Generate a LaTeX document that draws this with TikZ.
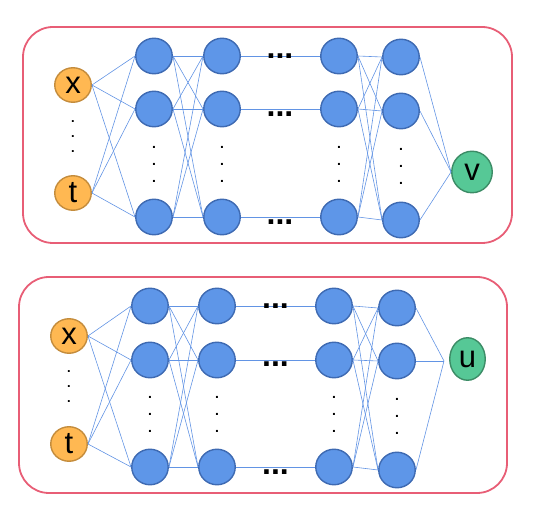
\documentclass[tikz,border=0pt]{standalone}
\usepackage{fontspec}
\setmainfont{Liberation Sans}
\usetikzlibrary{positioning,shapes.geometric}

\definecolor{nnblue}{RGB}{94,150,232}
\definecolor{nnblueline}{RGB}{62,106,178}
\definecolor{inorange}{RGB}{255,184,82}
\definecolor{inorangeline}{RGB}{196,140,60}
\definecolor{outgreen}{RGB}{86,200,150}
\definecolor{outgreenline}{RGB}{60,140,102}
\definecolor{panelred}{RGB}{232,94,118}
\definecolor{edgeblue}{RGB}{98,148,228}

\tikzset{
	hidden/.style={ellipse,fill=nnblue,draw=nnblueline,line width=1.4pt,inner sep=0pt,minimum width=36.5pt,minimum height=35.5pt},
	input/.style={ellipse,fill=inorange,draw=inorangeline,line width=1.4pt,inner sep=0pt,minimum width=36.5pt,minimum height=34.5pt,font=\fontsize{31}{31}\selectfont},
	output/.style={ellipse,fill=outgreen,draw=outgreenline,line width=1.4pt,inner sep=0pt,font=\fontsize{31}{31}\selectfont},
	link/.style={draw=edgeblue,line width=0.6pt},
	panel/.style={draw=panelred,line width=1.8pt,rounded corners=30pt},
	hdots/.style={inner sep=0pt,font=\bfseries\fontsize{32}{32}\selectfont},
	vdots/.style={inner sep=0pt,align=center,font=\bfseries\fontsize{14}{17}\selectfont}
}

\begin{document}
\begin{tikzpicture}[x=1pt,y=-1pt]
	\useasboundingbox (0,0) rectangle (536,518);

	% panel for v
	\draw[panel] (23,27) rectangle (512,243);

	\node[input] (vx) at (73,85) {x};
	\node[input] (vt) at (73,193) {t};

	\node[hidden] (va1) at (154,56) {};
	\node[hidden] (va2) at (154,109) {};
	\node[hidden] (va3) at (154,217) {};
	\node[hidden] (vb1) at (222,56) {};
	\node[hidden] (vb2) at (222,109) {};
	\node[hidden] (vb3) at (222,217) {};
	\node[hidden] (vc1) at (339,56) {};
	\node[hidden] (vc2) at (339,109) {};
	\node[hidden] (vc3) at (339,217) {};
	\node[hidden] (vd1) at (401,57) {};
	\node[hidden] (vd2) at (401,111) {};
	\node[hidden] (vd3) at (401,220) {};

	\node[output,minimum width=40.5pt,minimum height=41.5pt] (v) at (472,172) {v};

	\foreach \i in {vx,vt}
		\foreach \j in {va1,va2,va3}
			\draw[link] (\i.east) -- (\j.west);
	\foreach \i in {va1,va2,va3}
		\foreach \j in {vb1,vb2,vb3}
			\draw[link] (\i.east) -- (\j.west);
	\foreach \i in {1,2,3}
		\draw[link] (vb\i.east) -- (vc\i.west);
	\foreach \i in {vc1,vc2,vc3}
		\foreach \j in {vd1,vd2,vd3}
			\draw[link] (\i.east) -- (\j.west);
	\foreach \i in {vd1,vd2,vd3}
		\draw[link] (\i.east) -- (v.west);

	\node[hdots] (vh1) at (280,56) {...};
	\node[hdots] (vh2) at (280,114) {...};
	\node[hdots] (vh3) at (280,222) {...};

	\node[vdots,font=\bfseries\fontsize{13}{15}\selectfont] (vvx) at (73,137) {.\\.\\.};
	\node[vdots] (vva) at (154,164) {.\\.\\.};
	\node[vdots] (vvb) at (222,164) {.\\.\\.};
	\node[vdots] (vvc) at (339,164) {.\\.\\.};
	\node[vdots] (vvd) at (401,166) {.\\.\\.};

	% panel for u
	\draw[panel] (19,277) rectangle (507,493);

	\node[input] (ux) at (69,336) {x};
	\node[input] (ut) at (69,444) {t};

	\node[hidden] (ua1) at (150,306) {};
	\node[hidden] (ua2) at (150,360) {};
	\node[hidden] (ua3) at (150,467) {};
	\node[hidden] (ub1) at (217,306) {};
	\node[hidden] (ub2) at (217,360) {};
	\node[hidden] (ub3) at (217,467) {};
	\node[hidden] (uc1) at (334,306) {};
	\node[hidden] (uc2) at (334,360) {};
	\node[hidden] (uc3) at (334,467) {};
	\node[hidden] (ud1) at (397,308) {};
	\node[hidden] (ud2) at (397,361) {};
	\node[hidden] (ud3) at (397,470) {};

	\node[output,minimum width=35.5pt,minimum height=42.5pt] (u) at (467.5,359) {u};
	\coordinate (uin) at (444,361);

	\foreach \i in {ux,ut}
		\foreach \j in {ua1,ua2,ua3}
			\draw[link] (\i.east) -- (\j.west);
	\foreach \i in {ua1,ua2,ua3}
		\foreach \j in {ub1,ub2,ub3}
			\draw[link] (\i.east) -- (\j.west);
	\foreach \i in {1,2,3}
		\draw[link] (ub\i.east) -- (uc\i.west);
	\foreach \i in {uc1,uc2,uc3}
		\foreach \j in {ud1,ud2,ud3}
			\draw[link] (\i.east) -- (\j.west);
	\foreach \i in {ud1,ud2,ud3}
		\draw[link] (\i.east) -- (uin);

	\node[hdots] (uh1) at (275.5,306) {...};
	\node[hdots] (uh2) at (275.5,364) {...};
	\node[hdots] (uh3) at (275.5,472) {...};

	\node[vdots,font=\bfseries\fontsize{13}{15}\selectfont] (uvx) at (69,387) {.\\.\\.};
	\node[vdots] (uva) at (150,414) {.\\.\\.};
	\node[vdots] (uvb) at (217,414) {.\\.\\.};
	\node[vdots] (uvc) at (334,414) {.\\.\\.};
	\node[vdots] (uvd) at (397,416) {.\\.\\.};

\end{tikzpicture}
\end{document}
